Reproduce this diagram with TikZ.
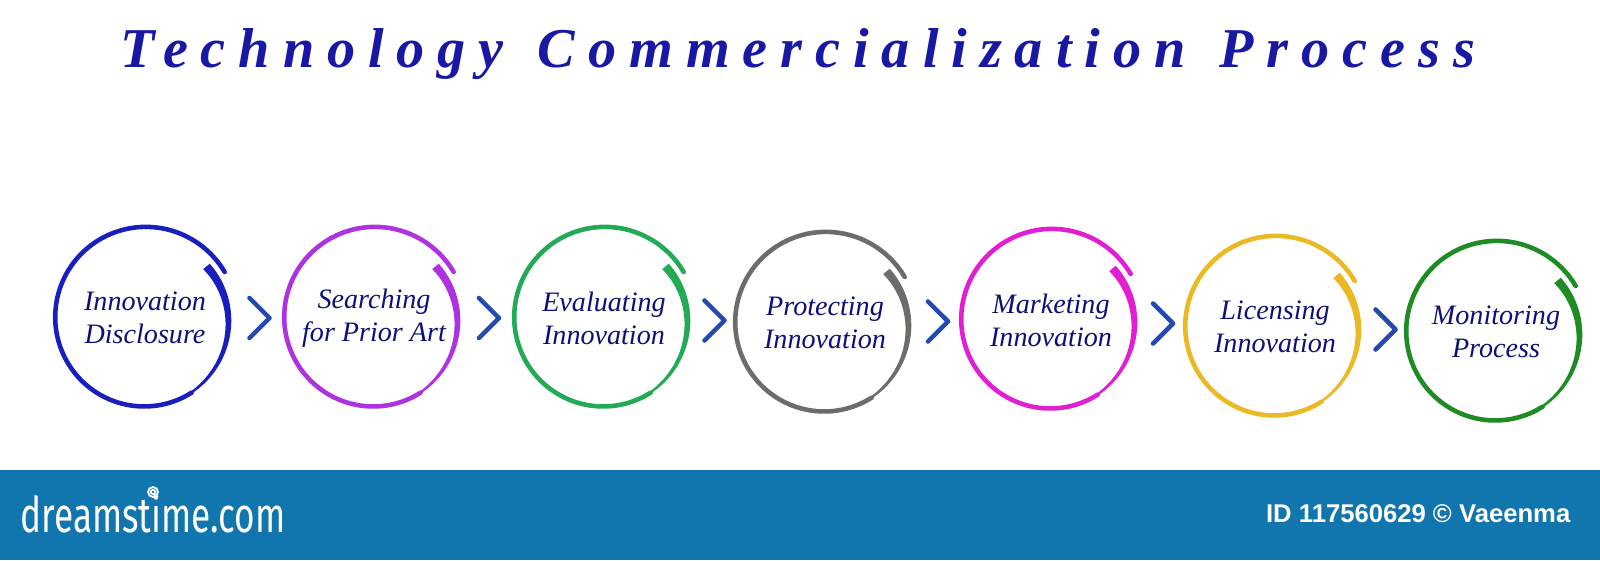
\documentclass[tikz,border=0pt]{standalone}
\usepackage{fontspec}
\setmainfont{Liberation Serif}
\newfontfamily\idfont{Liberation Sans}
\newfontfamily\logofont{Fira Sans}
\definecolor{titleblue}{RGB}{24, 24, 165}
\definecolor{textnavy}{RGB}{15, 15, 120}
\definecolor{chevblue}{RGB}{35, 75, 175}
\definecolor{bandblue}{RGB}{17, 118, 174}
\definecolor{ringblue}{RGB}{25, 30, 190}
\definecolor{ringpurple}{RGB}{175, 50, 225}
\definecolor{ringgreen}{RGB}{35, 170, 85}
\definecolor{ringgray}{RGB}{110, 108, 105}
\definecolor{ringmagenta}{RGB}{225, 30, 210}
\definecolor{ringgold}{RGB}{235, 185, 35}
\definecolor{ringdkgreen}{RGB}{30, 140, 35}
\usetikzlibrary{calc, positioning}

% hand-drawn ring round a step node: thin stroke, thick tapered end on the right
\newcommand{\handring}[2]{%
  \begin{scope}[shift={(#1.center)}]
    \draw[#2, line width=1.3pt, line cap=round] plot[domain=30:302, samples=70, smooth] (\x:{0.92-0.04*(\x-30)/272});
    \fill[#2] plot[domain=-62:40, samples=30, smooth] (\x:{0.89-0.045*(\x+62)/102})
      -- plot[domain=40:-62, samples=30, smooth] (\x:{0.87-0.11*(\x+62)/102}) -- cycle;
  \end{scope}}

\tikzset{
  stepring/.style={circle, minimum size=1.76cm, inner sep=0pt, align=center, text=textnavy,
    font=\fontsize{8}{9.4}\selectfont\itshape},
  chevron/.style={chevblue, line width=1.3pt, line cap=round, line join=round}
}

\begin{document}
\begin{tikzpicture}
  \useasboundingbox (0, 0) rectangle (16, 5.6);

  % Title
  \node[anchor=base, text=titleblue, inner sep=0pt, font=\fontsize{16}{19}\selectfont\bfseries\itshape\addfontfeature{LetterSpace=23}] (title) at (7.98, 4.92) {Technology\hspace{2pt} Commercialization\hspace{2pt} Process};

  % Steps
  \node[stepring] (c1) at (1.45, 2.42) {Innovation\\Disclosure};
  \node[stepring] (c2) at (3.74, 2.42) {Searching\\for Prior Art};
  \node[stepring] (c3) at (6.04, 2.42) {Evaluating\\Innovation};
  \node[stepring] (c4) at (8.25, 2.37) {Protecting\\Innovation};
  \node[stepring] (c5) at (10.51, 2.40) {Marketing\\Innovation};
  \node[stepring] (c6) at (12.75, 2.33) {Licensing\\Innovation};
  \node[stepring] (c7) at (14.96, 2.28) {Monitoring\\Process};

  \handring{c1}{ringblue}
  \handring{c2}{ringpurple}
  \handring{c3}{ringgreen}
  \handring{c4}{ringgray}
  \handring{c5}{ringmagenta}
  \handring{c6}{ringgold}
  \handring{c7}{ringdkgreen}

  % Chevrons between the steps
  \foreach \a/\b in {c1/c2, c2/c3, c3/c4, c4/c5, c5/c6, c6/c7} {
    \coordinate (m\a) at ($(\a)!0.5!(\b)$);
    \draw[chevron] ([shift={(-0.1, 0.2)}]m\a) -- ([shift={(0.1, 0)}]m\a) -- ([shift={(-0.1, -0.2)}]m\a);
  }

  % Bottom band
  \fill[bandblue] (0, 0) rectangle (16, 0.9);
  \node[anchor=base west, text=white, inner sep=0pt] (logo) at (0.2, 0.28) {\scalebox{0.715}[1]{\logofont\fontsize{14}{16}\selectfont dreamstime.com}};
  \draw[white, line width=0.5pt] (1.53, 0.68) circle (0.05) (1.53, 0.68) circle (0.022);
  \node[anchor=base east, text=white, inner sep=0pt, font=\idfont\bfseries\fontsize{7.3}{9}\selectfont] (credit) at (15.71, 0.38) {ID 117560629 © Vaeenma};
\end{tikzpicture}
\end{document}
